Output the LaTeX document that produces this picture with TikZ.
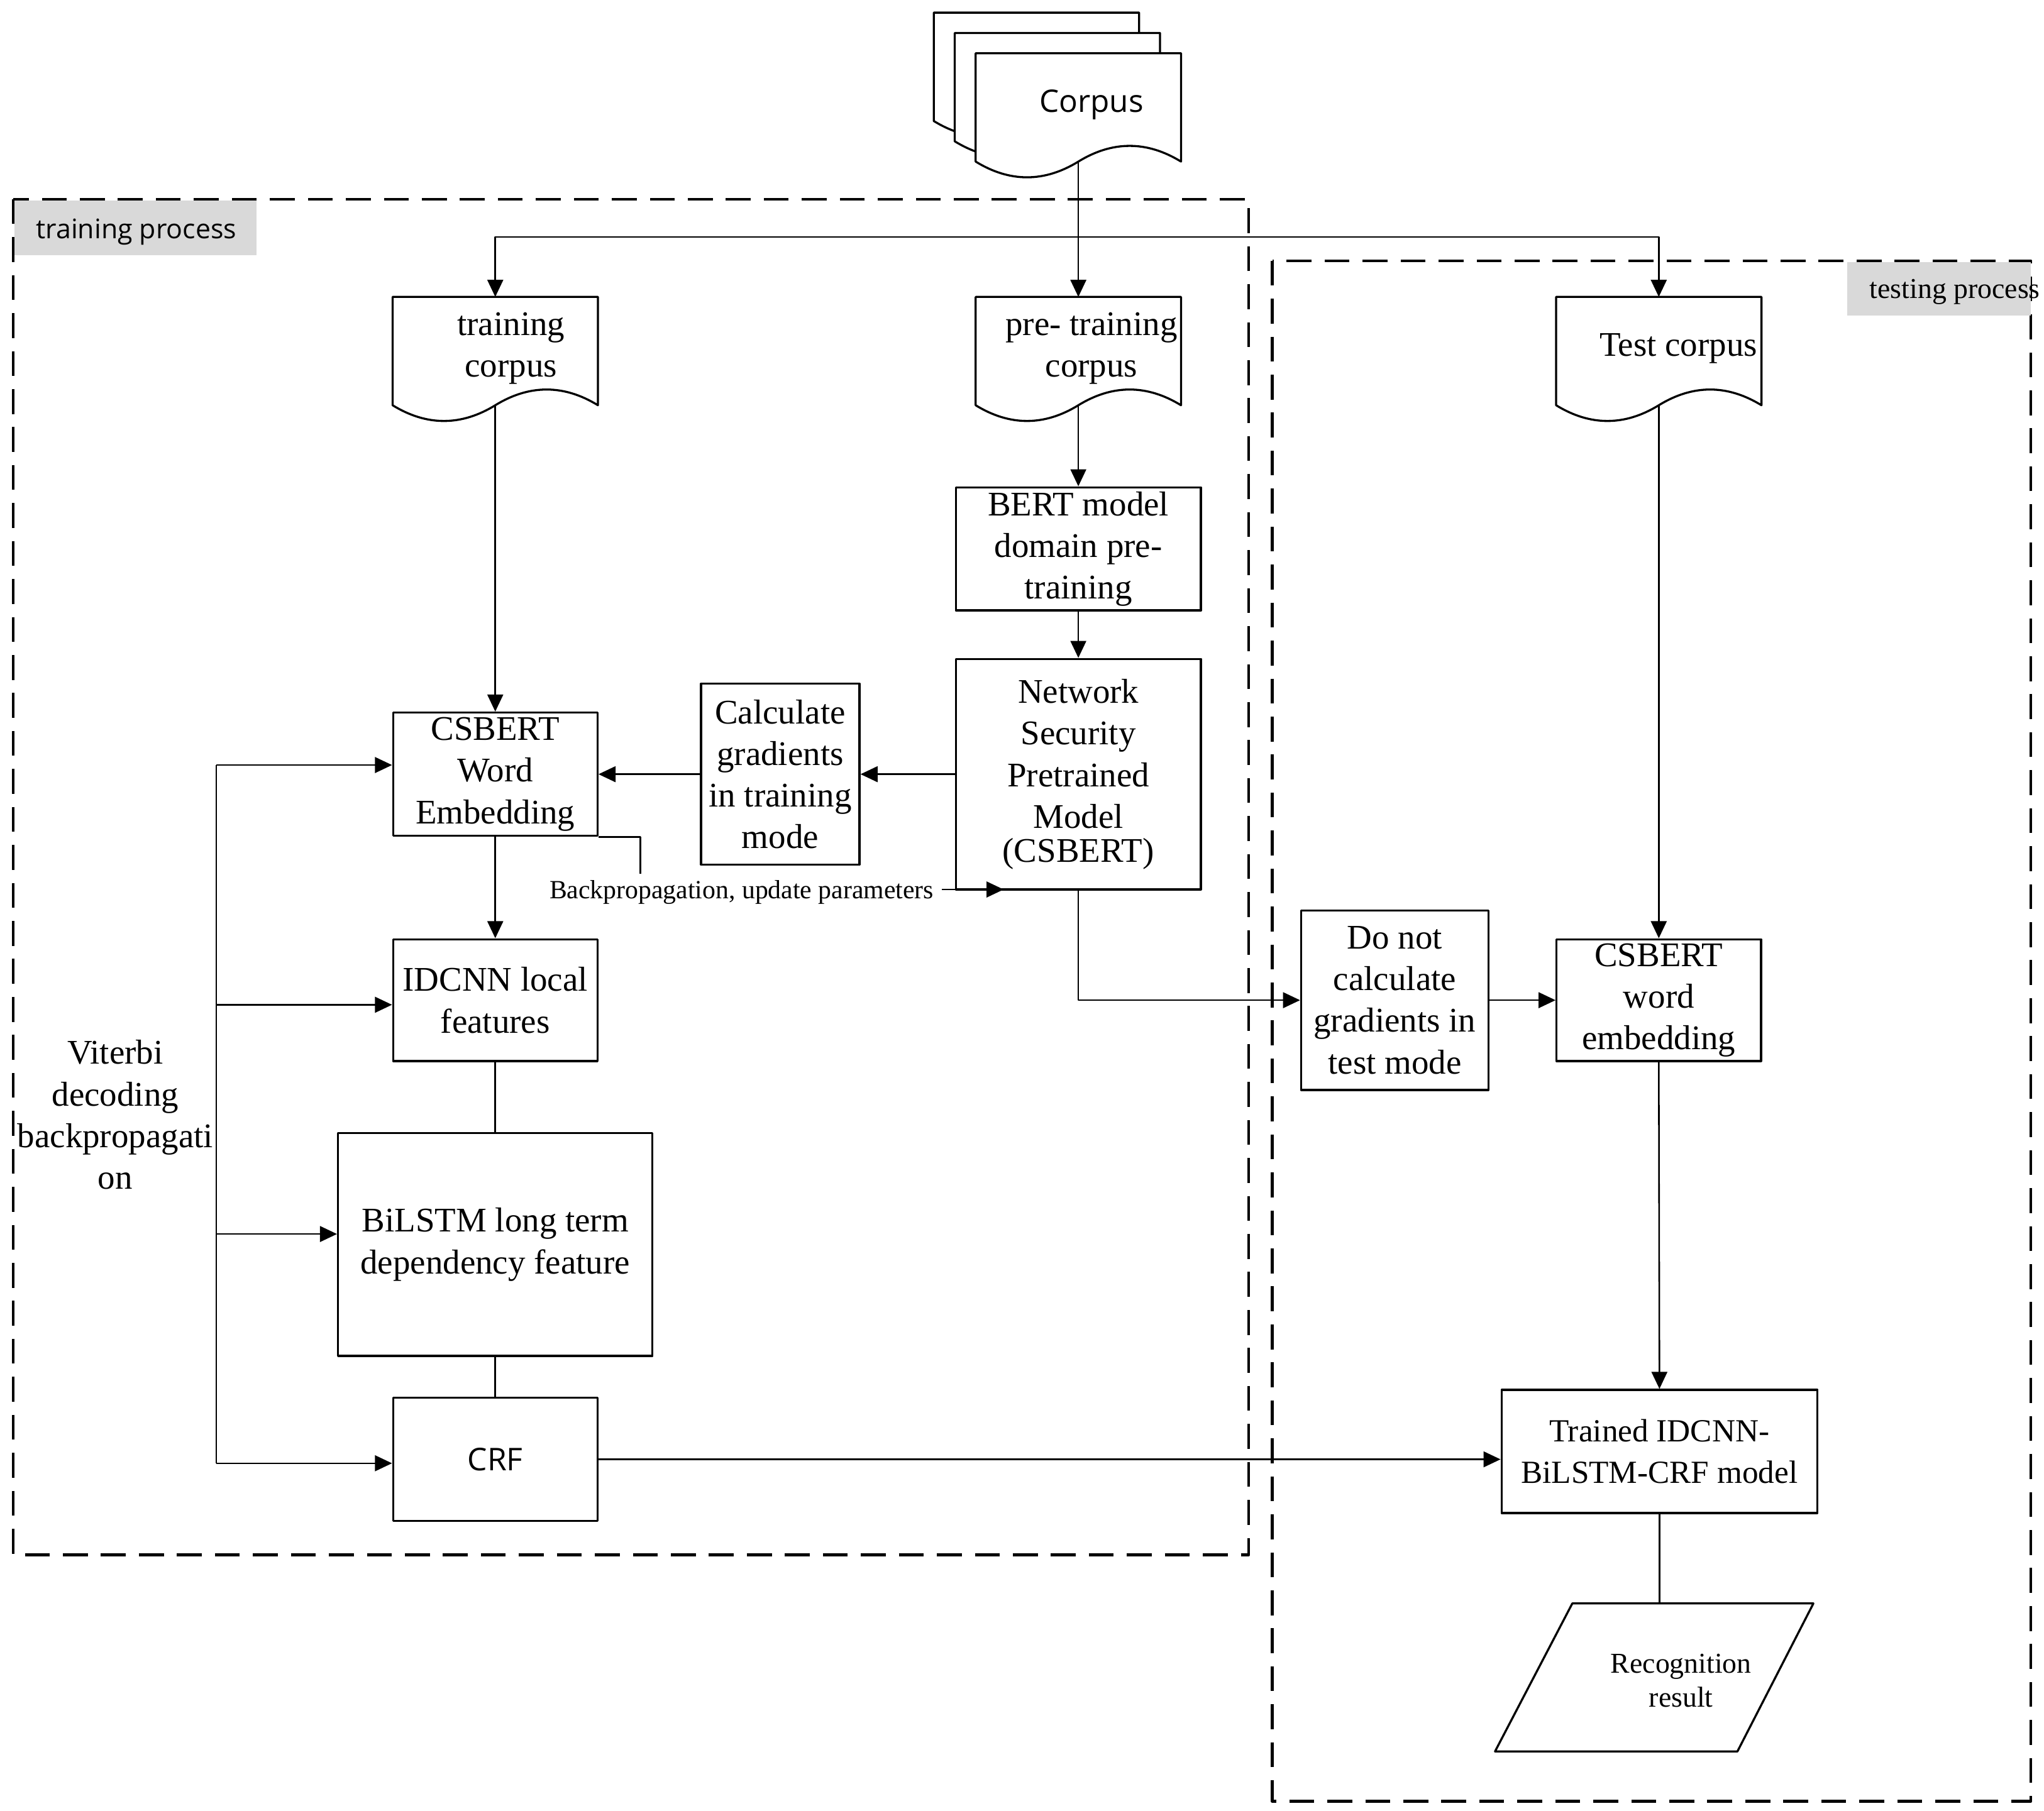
\documentclass[tikz,border=0pt]{standalone}
\usepackage{fontspec}
\setmainfont{Liberation Serif}
\newfontfamily\uisans{Open Sans}
\usetikzlibrary{arrows.meta}
\newcommand\docpath[1]{(#1.south west)--(#1.north west)--(#1.north east)--(#1.south east) .. controls +(-26,-16) and +(26,-16) .. (#1.south) .. controls +(-26,16) and +(26,16) .. (#1.south west)--cycle}
\begin{document}
\begin{tikzpicture}[>={Triangle[length=2.6mm,width=2.4mm]},line join=round,x=0.2mm,y=-0.2mm,font=\fontsize{15}{18.1}\selectfont]
	\tikzset{
		outline/.style={line width=0.9pt},
		box/.style={draw,outline,align=center,inner sep=0pt},
		doc/.style={minimum width=31.2mm,minimum height=16.4mm,inner sep=0pt},
		link/.style={line width=0.7pt},
		region/.style={line width=1.2pt,dash pattern=on 3.8mm off 2mm},
		tag/.style={fill=black!15},
	}
	\useasboundingbox (0,0) rectangle (1560,1382.4);
	\draw[region] (10,152) rectangle (953,1187);
	\draw[region] (971,199) rectangle (1550,1375);
	\fill[tag] (11,153) rectangle (196,195);
	\node[font=\uisans\fontsize{11.7}{14}\selectfont] (traintag) at (104,177) {training process};
	\fill[tag] (1410,200) rectangle (1550,241);
	\node[font=\fontsize{12.5}{15}\selectfont] (testtag) at (1492,223) {testing process};
	\foreach \n/\x/\y in {c3/791/51,c2/807/66.5,c1/823/82}{
		\node[doc] (\n) at (\x,\y) {};
		\draw[outline,fill=white] \docpath{\n};
	}
	\node[font=\uisans\fontsize{13.5}{16}\selectfont] (corpus) at (833,80) {Corpus};
	\node[doc] (tcorp) at (378,268) {};
	\node[doc] (pcorp) at (823,268) {};
	\node[doc] (testc) at (1266,268) {};
	\foreach \n in {tcorp,pcorp,testc}{
		\draw[outline] \docpath{\n};
	}
	\node[align=center] (tcorptxt) at (390,266) {training\\corpus};
	\node[align=center] (pcorptxt) at (833,266) {pre- training\\corpus};
	\node (testctxt) at (1281,266) {Test corpus};
	\node[box,minimum width=37.4mm,minimum height=18.8mm] (bert) at (823,419) {BERT model\\domain pre-\\training};
	\node[box,minimum width=37.4mm,minimum height=35.2mm] (net) at (823,591) {Network\\Security\\Pretrained\\Model\\[-3.4pt](CSBERT)};
	\node[box,minimum width=24.2mm,minimum height=27.6mm] (calc) at (595.5,591) {Calculate\\gradients\\in training\\mode};
	\node[box,minimum width=31.2mm,minimum height=18.8mm] (emb) at (378,591) {CSBERT\\Word\\Embedding};
	\node[box,minimum width=31.2mm,minimum height=18.6mm] (idcnn) at (378,763.5) {IDCNN local\\features};
	\node[box,minimum width=48mm,minimum height=34mm] (bilstm) at (378,950) {BiLSTM long term\\dependency feature};
	\node[box,minimum width=31.2mm,minimum height=18.8mm,font=\uisans\fontsize{13.6}{16}\selectfont] (crf) at (378,1114) {CRF};
	\node[box,minimum width=28.6mm,minimum height=27.4mm] (nograd) at (1064.5,763.5) {Do not\\calculate\\gradients in\\test mode};
	\node[box,minimum width=31.2mm,minimum height=18.6mm] (temb) at (1266,763.5) {CSBERT\\word\\embedding};
	\node[box,minimum width=48.2mm,minimum height=18.8mm,font=\fontsize{14}{18.1}\selectfont] (trained) at (1266.5,1108) {Trained IDCNN-\\BiLSTM-CRF model};
	\draw[outline] (1200,1224)--(1384,1224)--(1326,1337)--(1141,1337)--cycle;
	\node[align=center,font=\fontsize{12.5}{14.8}\selectfont] (res) at (1283,1283) {Recognition\\result};
	\coordinate (restop) at (1266.5,1224);
	\node[align=center] (viterbi) at (88,851) {Viterbi\\decoding\\backpropagati\\on};
	\coordinate (split) at (823,181);
	\draw[link,->] (c1.south) -- (pcorp.north);
	\draw[link,->] (split) -| (tcorp.north);
	\draw[link,->] (split) -| (testc.north);
	\draw[link,->] (tcorp.south) -- (emb.north);
	\draw[link,->] (pcorp.south) -- (bert.north);
	\draw[link,->] (bert.south) -- (net.north);
	\draw[link,->] (net.west) -- (calc.east);
	\draw[link,->] (calc.west) -- (emb.east);
	\draw[link,->] (emb.south) -- (idcnn.north);
	\draw[link] (idcnn.south) -- (bilstm.north);
	\draw[link] (bilstm.south) -- (crf.north);
	\draw[link,->] (crf.east) -- (crf.east -| trained.west);
	\draw[link,->] (net.south) |- (nograd.west);
	\draw[link,->] (nograd.east) -- (temb.west);
	\draw[link,->] (testc.south) -- (temb.north);
	\draw[link,->] (temb.south) -- (trained.north);
	\draw[link] (trained.south) -- (restop);
	\draw[link] (emb.south east) -- ++(32,0) -- ++(0,28);
	\node[font=\fontsize{11.4}{13}\selectfont] (bp) at (566,681) {Backpropagation, update parameters};
	\coordinate (bptip) at (766,679);
	\draw[link,->] (bp.east |- bptip) -- (bptip);
	\foreach \n/\y in {emb/584,idcnn/767,bilstm/942,crf/1117}{
		\coordinate (v\n) at (165,\y);
		\draw[link,->] (v\n) -- (v\n -| \n.west);
	}
	\draw[link] (vemb) -- (vcrf);
\end{tikzpicture}
\end{document}
